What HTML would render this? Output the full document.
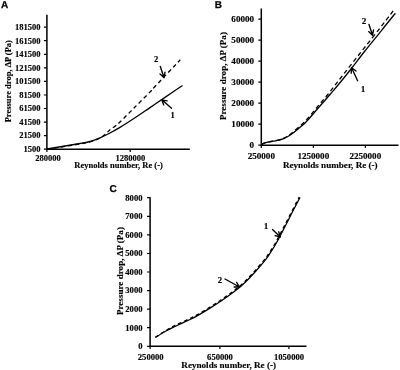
<!DOCTYPE html>
<html><head><meta charset="utf-8"><title>Figure</title>
<style>
html,body{margin:0;padding:0;background:#fff;}
svg{display:block}
.t{font-family:"Liberation Serif",serif;font-weight:bold;font-size:8.5px;fill:#000;stroke:#000;stroke-width:0.15}
.pl{font-family:"Liberation Sans",sans-serif;font-weight:bold;font-size:10px;fill:#000;stroke:#000;stroke-width:0.25;text-rendering:geometricPrecision}
.b{font-size:9.1px}
.c{font-size:8.6px}
.e{text-anchor:end}.m{text-anchor:middle}
.ax{fill:none;stroke:#000;stroke-width:1.5}
.tk{fill:none;stroke:#000;stroke-width:1.2}
.ln{fill:none;stroke:#000;stroke-width:1.3;stroke-linejoin:round}
.ds{stroke-dasharray:4.2 2.6}
.ar{fill:none;stroke:#000;stroke-width:1.35;stroke-linecap:round}
</style></head><body>
<svg width="400" height="370" viewBox="0 0 400 370">
<rect width="400" height="370" fill="#fff"/>
<text class="pl" x="0.9" y="8">A</text>
<path class="ax" d="M46.9,14.7 V149.2 H189.8"/>
<text class="t e" x="40.5" y="30.0">181500</text>
<text class="t e" x="40.5" y="43.5">161500</text>
<text class="t e" x="40.5" y="57.1">141500</text>
<text class="t e" x="40.5" y="70.6">121500</text>
<text class="t e" x="40.5" y="84.2">101500</text>
<text class="t e" x="40.5" y="97.8">81500</text>
<text class="t e" x="40.5" y="111.3">61500</text>
<text class="t e" x="40.5" y="124.9">41500</text>
<text class="t e" x="40.5" y="138.4">21500</text>
<text class="t e" x="40.5" y="152.0">1500</text>
<path class="tk" d="M46.9,27.2 h-3 M46.9,40.7 h-3 M46.9,54.3 h-3 M46.9,67.8 h-3 M46.9,81.4 h-3 M46.9,95.0 h-3 M46.9,108.5 h-3 M46.9,122.1 h-3 M46.9,135.6 h-3 M46.9,149.2 h-3 M46.9,149.2 v2.8 M130.2,149.2 v2.8"/>
<text class="t m" x="47.9" y="161">280000</text>
<text class="t m" x="130.4" y="161.2">1280000</text>
<text class="t m" x="118.6" y="167.8">Reynolds number, Re (-)</text>
<text class="t m" transform="translate(10.9,81.2) rotate(-90)">Pressure drop, ΔP (Pa)</text>
<path class="ln" d="M47.0,149.0 C50.0,148.5 59.5,146.9 65.0,146.0 C70.5,145.1 75.8,144.2 80.0,143.5 C84.2,142.8 86.7,142.4 90.0,141.5 C93.3,140.6 96.7,139.2 100.0,137.8 C103.3,136.4 106.7,134.7 110.0,133.0 C113.3,131.3 115.8,129.9 120.0,127.4 C124.2,124.9 130.0,121.1 135.0,117.8 C140.0,114.5 145.0,111.0 150.0,107.6 C155.0,104.2 159.6,101.1 165.0,97.4 C170.4,93.7 179.6,87.5 182.5,85.5"/>
<path class="ln ds" style="stroke-dasharray:4 3.1" d="M47.0,149.3 C50.0,148.8 59.5,147.3 65.0,146.4 C70.5,145.5 75.8,144.7 80.0,143.9 C84.2,143.2 87.0,142.7 90.0,141.9 C93.0,141.1 95.8,140.0 98.0,139.0 C100.2,138.0 101.5,137.1 103.0,136.0 C104.5,134.9 105.8,133.7 107.0,132.6 C108.2,131.5 108.7,130.8 110.0,129.7 C111.3,128.6 113.3,127.6 115.0,126.3 C116.7,125.0 116.7,125.2 120.0,122.0 C123.3,118.8 129.9,112.1 135.0,107.0 C140.1,101.9 147.2,94.9 150.5,91.5 C153.8,88.1 150.0,91.8 155.0,86.5 C160.0,81.2 176.1,64.2 180.3,59.8"/>
<text class="t m" x="156" y="61.9">2</text>
<path d="M160.3,66.5 L164.0,77.5 M164.0,77.5 L160.0,73.9 M164.0,77.5 L165.0,72.2" class="ar"/>
<text class="t m" x="172.7" y="117.6">1</text>
<path d="M171.5,108.2 L161.8,99.8 M161.8,99.8 L167.1,100.9 M161.8,99.8 L163.7,104.9" class="ar"/>
<text class="pl" x="214.8" y="8">B</text>
<path class="ax" d="M261.3,8.5 V145.2 H398.5"/>
<text class="t b e" x="254.1" y="148.1">0</text>
<text class="t b e" x="254.1" y="127.1">10000</text>
<text class="t b e" x="254.1" y="106.1">20000</text>
<text class="t b e" x="254.1" y="85.0">30000</text>
<text class="t b e" x="254.1" y="64.0">40000</text>
<text class="t b e" x="254.1" y="43.0">50000</text>
<text class="t b e" x="254.1" y="22.0">60000</text>
<path class="tk" d="M261.3,145.2 h-3 M261.3,124.2 h-3 M261.3,103.2 h-3 M261.3,82.1 h-3 M261.3,61.1 h-3 M261.3,40.1 h-3 M261.3,19.1 h-3 M261.3,145.2 v2.8 M313.4,145.2 v2.8 M365.4,145.2 v2.8 "/>
<text class="t b m" x="261.3" y="159">250000</text>
<text class="t b m" x="313.3" y="159">1250000</text>
<text class="t b m" x="365.3" y="159">2250000</text>
<text class="t b m" x="330.3" y="167.6">Reynolds number, Re (-)</text>
<text class="t b m" transform="translate(226.1,76.1) rotate(-90)">Pressure drop, ΔP (Pa)</text>
<path class="ln" d="M261.8,145.0 C261.9,144.9 261.8,144.7 262.3,144.3 C262.8,143.9 263.2,143.3 265.0,142.8 C266.8,142.3 270.3,141.8 273.0,141.2 C275.7,140.6 278.8,140.1 281.0,139.5 C283.2,138.9 284.3,138.3 286.0,137.5 C287.7,136.7 289.0,135.9 291.0,134.5 C293.0,133.1 295.4,131.2 298.0,129.0 C300.6,126.8 303.2,125.0 306.5,121.5 C309.8,118.0 314.1,112.8 318.0,108.3 C321.9,103.8 326.2,99.0 330.0,94.5 C333.8,90.0 337.4,85.9 341.0,81.5 C344.6,77.1 347.9,73.0 351.8,68.0 C355.7,63.0 359.8,57.5 364.5,51.5 C369.2,45.5 375.2,38.3 380.0,32.3 C384.8,26.3 390.9,18.7 393.5,15.5 C396.1,12.3 395.1,13.7 395.4,13.3"/>
<path class="ln ds" style="stroke-dasharray:4.4 3.1" d="M261.8,145.0 C261.9,144.9 261.8,144.7 262.3,144.3 C262.8,143.9 263.2,143.3 265.0,142.8 C266.8,142.3 270.3,141.8 273.0,141.2 C275.7,140.6 278.8,140.0 281.0,139.3 C283.2,138.6 284.3,137.9 286.0,137.0 C287.7,136.1 289.0,135.2 291.0,133.7 C293.0,132.2 295.4,130.1 298.0,127.8 C300.6,125.5 303.2,123.4 306.5,119.8 C309.8,116.2 314.1,110.9 318.0,106.2 C321.9,101.5 326.2,96.5 330.0,91.7 C333.8,86.9 337.3,82.2 341.0,77.5 C344.7,72.8 348.1,68.5 352.0,63.5 C355.9,58.5 359.8,53.6 364.5,47.7 C369.2,41.8 375.8,33.5 380.0,28.0 C384.2,22.6 387.5,18.3 390.0,15.0 C392.5,11.7 394.2,9.4 395.0,8.3"/>
<text class="t b m" x="364.1" y="23.6">2</text>
<path d="M369.0,24.5 L372.5,35.3 M372.5,35.3 L368.6,31.6 M372.5,35.3 L373.5,30.0" class="ar"/>
<text class="t b m" x="363" y="91.6">1</text>
<path d="M357.6,80.8 L351.6,67.8 M351.6,67.8 L356.0,71.0 M351.6,67.8 L351.2,73.2" class="ar"/>
<text class="pl" x="109.5" y="192">C</text>
<path class="ax" d="M150.1,197.2 V346.3 H306.5"/>
<text class="t c e" x="142.5" y="349.1">0</text>
<text class="t c e" x="142.5" y="330.5">1000</text>
<text class="t c e" x="142.5" y="312.0">2000</text>
<text class="t c e" x="142.5" y="293.4">3000</text>
<text class="t c e" x="142.5" y="274.8">4000</text>
<text class="t c e" x="142.5" y="256.2">5000</text>
<text class="t c e" x="142.5" y="237.7">6000</text>
<text class="t c e" x="142.5" y="219.1">7000</text>
<text class="t c e" x="142.5" y="200.5">8000</text>
<path class="tk" d="M150.1,346.3 h-3 M150.1,327.7 h-3 M150.1,309.2 h-3 M150.1,290.6 h-3 M150.1,272.0 h-3 M150.1,253.5 h-3 M150.1,234.9 h-3 M150.1,216.3 h-3 M150.1,197.7 h-3 M150.1,346.3 v2.8 M219.9,346.3 v2.8 M288.9,346.3 v2.8 "/>
<text class="t c m" x="150.7" y="360.2">250000</text>
<text class="t c m" x="220" y="360.2">650000</text>
<text class="t c m" x="289" y="360.2">1050000</text>
<text class="t b m" x="228.7" y="367.8">Reynolds number, Re (-)</text>
<text class="t b m" transform="translate(122.6,271.1) rotate(-90)">Pressure drop, ΔP (Pa)</text>
<path class="ln" d="M155.5,337.5 C157.1,336.5 161.8,333.3 165.0,331.5 C168.2,329.7 170.8,328.5 175.0,326.5 C179.2,324.5 186.2,321.3 190.0,319.5 C193.8,317.7 194.2,317.5 197.5,315.6 C200.8,313.7 205.8,310.7 210.0,308.1 C214.2,305.5 218.3,302.9 222.5,300.0 C226.7,297.1 231.2,293.9 235.0,291.0 C238.8,288.1 241.7,285.7 245.0,282.5 C248.3,279.3 251.7,275.7 255.0,272.0 C258.3,268.3 262.7,263.2 265.0,260.3 C267.3,257.4 267.5,257.0 269.0,254.8 C270.5,252.6 272.5,249.5 274.0,247.0 C275.5,244.5 277.0,241.8 278.0,240.0 C279.0,238.2 278.8,238.4 280.0,236.2 C281.2,233.9 283.1,230.2 285.0,226.5 C286.9,222.8 289.2,218.3 291.2,214.3 C293.3,210.3 296.0,205.1 297.5,202.3 C299.0,199.5 299.6,198.3 300.0,197.5"/>
<path class="ln ds" style="stroke-dasharray:3.6 3" d="M155.3,337.2 C156.9,336.2 161.6,333.2 164.9,331.2 C168.1,329.3 170.5,327.8 174.6,325.7 C178.8,323.6 185.9,320.5 189.6,318.7 C193.4,316.9 193.8,316.8 197.1,314.9 C200.4,313.0 205.4,310.0 209.6,307.4 C213.7,304.8 217.9,302.1 222.0,299.3 C226.2,296.5 230.7,293.2 234.5,290.3 C238.2,287.4 241.1,285.0 244.4,281.9 C247.7,278.7 251.0,275.1 254.4,271.4 C257.7,267.7 262.0,262.6 264.3,259.8 C266.7,256.9 266.8,256.5 268.3,254.3 C269.8,252.1 271.8,249.0 273.3,246.6 C274.8,244.1 276.3,241.4 277.3,239.6 C278.3,237.8 278.1,238.1 279.2,235.8 C280.4,233.6 282.4,229.8 284.2,226.1 C286.1,222.5 288.4,217.9 290.5,213.9 C292.6,209.9 295.3,204.7 296.7,201.9 C298.2,199.1 298.8,197.9 299.2,197.1"/>
<text class="t b m" x="266" y="228.8">1</text>
<path d="M272.5,229.4 L280.3,237.0 M280.3,237.0 L275.1,235.6 M280.3,237.0 L278.7,231.8" class="ar"/>
<text class="t c m" x="220" y="282.6">2</text>
<path d="M225.0,279.0 L239.5,287.0 M239.5,287.0 L234.1,287.0 M239.5,287.0 L236.6,282.4" class="ar"/>
</svg>
</body></html>
